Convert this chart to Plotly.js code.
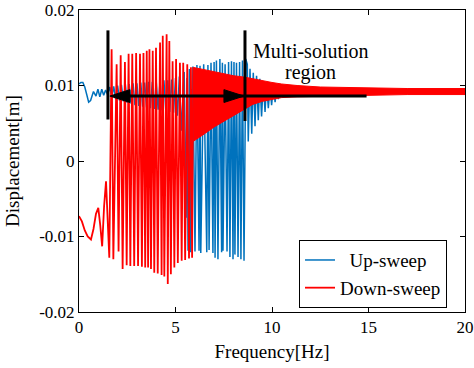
<!DOCTYPE html>
<html>
<head>
<meta charset="utf-8">
<script src="https://cdn.plot.ly/plotly-3.0.1.min.js"></script>
<style>html,body{margin:0;padding:0;background:#fff;}#chart{width:474px;height:368px;}</style>
</head>
<body>
<div id="chart"></div>
<script>
// Up-sweep (blue) readings: frequency [Hz] and displacement [m]
const upSweepFreq = [
  0.00,0.10,0.20,0.30,0.40,0.50,0.60,0.75,0.88,0.98,1.08,1.18,1.28,1.38,1.48,
  1.60,1.70,1.80,1.90,2.00,2.10,2.20,2.30,2.40,2.50,2.60,2.70,2.80,2.90,3.00,
  3.10,3.20,3.30,3.40,3.50,3.60,3.70,3.80,3.90,4.00,4.10,4.20,4.30,4.40,4.50,
  4.60,4.70,4.80,4.90,5.00,5.10,5.20,5.30,
  5.45,5.55,5.60,5.65,5.72,5.79,5.90,6.01,6.11,6.22,6.27,6.31,6.46,6.62,6.68,
  6.74,6.84,6.94,7.00,7.05,7.12,7.20,7.30,7.39,7.43,7.46,7.57,7.67,7.75,7.82,
  7.90,7.98,8.03,8.08,8.16,8.24,8.32,8.39,8.47,8.55,8.64,
  8.72,8.77,8.86,8.95,9.03,9.12,9.20,9.29,9.37,9.46,9.55,9.64,9.72,9.81,9.90,
  9.98,10.07,10.16,10.25,10.33,10.42,10.50,10.63,10.76,10.93,11.10,11.30,11.50,
  12.00,20.00
];
const upSweepDisp = [
  0.0102,0.0104,0.0104,0.0098,0.0088,0.0078,0.0080,0.0092,0.0086,0.0095,0.0085,0.0095,0.0087,0.0094,0.0088,
  0.0098,0.0084,0.0099,0.0082,0.0100,0.0080,0.0101,0.0079,0.0102,0.0077,0.0102,0.0076,0.0103,0.0074,0.0103,
  0.0073,0.0104,0.0072,0.0104,0.0071,0.0105,0.0070,0.0105,0.0069,0.0106,0.0068,0.0106,0.0067,0.0107,0.0066,
  0.0107,0.0065,0.0108,0.0064,0.0110,0.0060,0.0112,0.0040,
  0.0118,-0.0075,0.0110,-0.0119,0.0122,-0.0121,0.0125,-0.0120,0.0127,-0.0119,0.0126,-0.0122,0.0128,-0.0121,0.0127,
  -0.0118,0.0130,-0.0122,0.0131,-0.0128,0.0133,-0.0130,0.0135,-0.0121,0.0130,-0.0119,0.0128,-0.0120,0.0131,-0.0127,
  0.0132,-0.0130,0.0131,-0.0124,0.0130,-0.0127,0.0131,-0.0130,0.0133,-0.0132,0.0135,
  0.0128,0.0026,0.0122,0.0036,0.0117,0.0046,0.0113,0.0054,0.0109,0.0059,0.0106,0.0065,0.0104,0.0070,0.0101,
  0.0074,0.0099,0.0078,0.0097,0.0082,0.0096,0.0085,0.0095,0.0087,0.0094,0.0089,0.0093,0.0090,
  0.0092,0.0092
];

// Down-sweep (red) readings before the dense band
const downSweepFreq = [
  0.00,0.15,0.30,0.45,0.62,0.75,0.88,1.00,1.10,1.20,1.30,1.40,1.57,
  1.69,1.78,1.95,2.05,2.16,2.26,2.38,2.47,2.57,2.66,2.76,2.86,2.96,3.06,3.16,3.26,
  3.34,3.43,3.51,3.58,3.65,3.73,3.82,3.90,3.99,4.08,4.20,4.28,4.34,4.42,4.54,4.60,
  4.68,4.76,4.85,4.94,5.03,5.12,5.23,5.32,5.40,5.50,5.61,5.70,5.80,5.86,5.92
];
const downSweepDisp = [
  -0.0073,-0.0080,-0.0092,-0.0100,-0.0104,-0.0090,-0.0070,-0.0062,-0.0085,-0.0113,-0.0060,-0.0027,-0.0128,
  0.0148,-0.0130,0.0128,-0.0120,0.0140,-0.0143,0.0131,-0.0138,0.0142,-0.0139,0.0142,-0.0139,0.0143,-0.0139,0.0142,-0.0140,
  0.0143,-0.0141,0.0146,-0.0141,0.0148,-0.0143,0.0146,-0.0148,0.0150,-0.0149,0.0157,-0.0151,0.0166,-0.0153,0.0168,-0.0163,
  0.0159,-0.0150,0.0132,-0.0141,0.0135,-0.0135,0.0130,-0.0132,0.0130,-0.0131,0.0128,-0.0129,0.0124,-0.0128,0.0124
];

// Down-sweep dense oscillation band: upper and lower envelope
const bandFreq  = [5.92, 6.5, 7.0, 7.5, 8.0, 8.6, 9.0, 9.5, 10.0, 10.5, 11.3, 12.5, 14.7, 17.0, 20.0];
const bandUpper = [0.0124,0.0121,0.0118,0.0115,0.0113,0.0111,0.0109,0.0106,0.0104,0.0102,0.0100,0.0098,0.0097,0.0096,0.0096];
const bandLower = [0.0026,0.0036,0.0045,0.0053,0.0061,0.0069,0.0075,0.0079,0.0082,0.0084,0.0085,0.0086,0.0087,0.0088,0.0088];

// Tick labels
const xTickVals = [0, 5, 10, 15, 20];
const xTickText = ['0', '5', '10', '15', '20'];
const yTickVals = [-0.02, -0.01, 0, 0.01, 0.02];
const yTickText = ['-0.02', '-0.01', '0', '0.01', '0.02'];

// Multi-solution region marker
const regionStart = 1.5, regionEnd = 8.6;
const markTop = 0.0173, markBottom = 0.0055;
const arrowY = 0.0086, arrowLeftTip = 1.6, arrowLineEnd = 14.9;

const FONT = 'Liberation Serif, Times New Roman, serif';
const BLUE = '#0072BD', RED = '#FF0000';

const bandX = bandFreq.concat(bandFreq.slice().reverse());
const bandY = bandUpper.concat(bandLower.slice().reverse());

const traces = [
  {x: upSweepFreq, y: upSweepDisp, mode: 'lines', name: '\u00a0\u00a0Up-sweep',
   line: {color: BLUE, width: 1.5}},
  {x: downSweepFreq, y: downSweepDisp, mode: 'lines', name: 'Down-sweep',
   line: {color: RED, width: 1.8}},
  {x: bandX, y: bandY, mode: 'lines', fill: 'toself', fillcolor: RED,
   line: {color: RED, width: 1}, showlegend: false, hoverinfo: 'skip'}
];

const headLen = 1.04, headHalf = 0.00085;
function tri(tipX, dir) {
  const bx = tipX - dir * headLen;
  return `M ${tipX} ${arrowY} L ${bx} ${arrowY + headHalf} L ${bx} ${arrowY - headHalf} Z`;
}

const shapes = [
  {type: 'line', xref: 'x', yref: 'y', x0: regionStart, x1: regionStart, y0: markBottom, y1: markTop,
   line: {color: 'black', width: 3}},
  {type: 'line', xref: 'x', yref: 'y', x0: regionEnd, x1: regionEnd, y0: markBottom - 0.0002, y1: markTop,
   line: {color: 'black', width: 3}},
  {type: 'line', xref: 'x', yref: 'y', x0: arrowLeftTip + 0.5, x1: arrowLineEnd, y0: arrowY, y1: arrowY,
   line: {color: 'black', width: 3}},
  {type: 'path', xref: 'x', yref: 'y', path: tri(arrowLeftTip, -1), fillcolor: 'black', line: {color: 'black', width: 1}},
  {type: 'path', xref: 'x', yref: 'y', path: tri(regionEnd - 0.05, 1), fillcolor: 'black', line: {color: 'black', width: 1}}
];

const layout = {
  width: 474, height: 368,
  margin: {l: 79, r: 9, t: 10, b: 56},
  paper_bgcolor: '#fff', plot_bgcolor: '#fff',
  font: {family: FONT, size: 17, color: '#000'},
  showlegend: true,
  legend: {x: 0.57, y: 0.238, xanchor: 'left', yanchor: 'top',
           bgcolor: '#fff', bordercolor: '#000', borderwidth: 1,
           font: {family: FONT, size: 19, color: '#000'}, tracegroupgap: 0},
  xaxis: {range: [0, 20], tickvals: xTickVals, ticktext: xTickText,
          ticks: 'inside', ticklen: 5, tickcolor: '#000', showline: true, linecolor: '#000', linewidth: 1,
          mirror: 'ticks', showgrid: false, zeroline: false,
          tickfont: {family: FONT, size: 17},
          title: {text: 'Frequency[Hz]', font: {family: FONT, size: 19}, standoff: 8}},
  yaxis: {range: [-0.02, 0.02], tickvals: yTickVals, ticktext: yTickText,
          ticks: 'inside', ticklen: 5, tickcolor: '#000', showline: true, linecolor: '#000', linewidth: 1,
          mirror: 'ticks', showgrid: false, zeroline: false,
          tickfont: {family: FONT, size: 17},
          title: {text: 'Displacement[m]', font: {family: FONT, size: 19}, standoff: 14}},
  shapes: shapes,
  annotations: [
    {xref: 'x', yref: 'y', x: 12.0, y: 0.0146, text: 'Multi-solution', showarrow: false,
     font: {family: FONT, size: 20, color: '#000'}},
    {xref: 'x', yref: 'y', x: 12.0, y: 0.0117, text: 'region', showarrow: false,
     font: {family: FONT, size: 20, color: '#000'}}
  ]
};

Plotly.newPlot('chart', traces, layout, {staticPlot: true, displayModeBar: false});
</script>
</body>
</html>
